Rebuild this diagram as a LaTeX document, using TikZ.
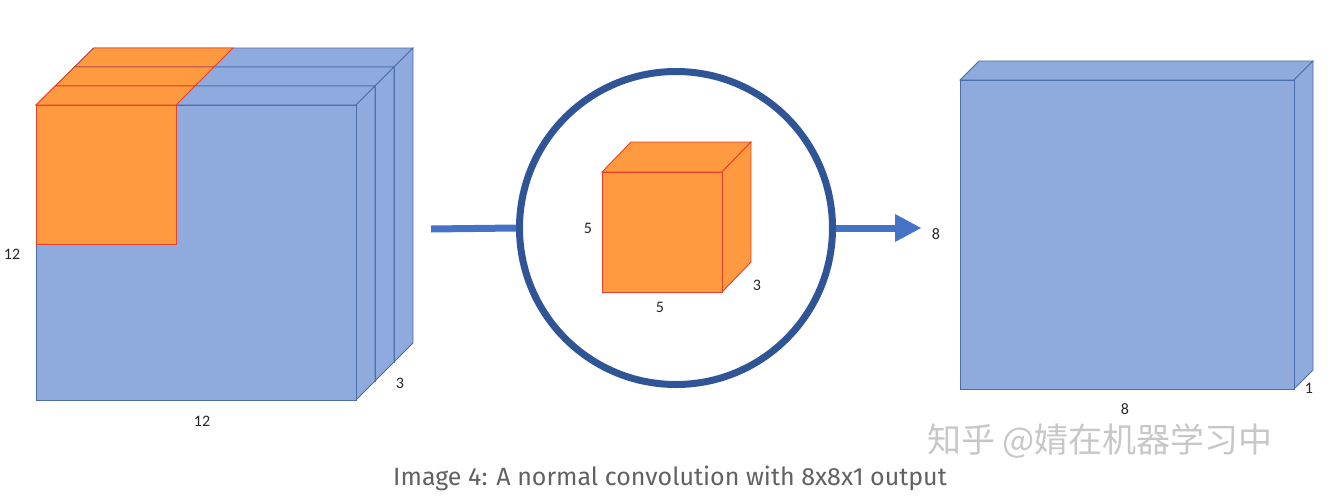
\documentclass[tikz,border=0pt]{standalone}
\usepackage{fontspec}
\setmainfont{Carlito}
\newfontfamily\capfont{Fira Sans}
\newfontfamily\cjk{Noto Sans CJK SC}
\begin{document}
\begin{tikzpicture}[x=1pt,y=-1pt,line join=miter,
  bluebox/.style={fill=blueF,draw=blueD,line width=0.9pt},
  orabox/.style={fill=oraF,draw=redD,line width=0.9pt},
  lab/.style={font=\fontsize{16}{18}\selectfont,text=black!85}]
\definecolor{blueF}{HTML}{8FAADC}
\definecolor{blueD}{HTML}{4A6EA8}
\definecolor{oraF}{HTML}{FF9A40}
\definecolor{redD}{HTML}{E8412B}
\definecolor{ring}{HTML}{2F5597}
\definecolor{arr}{HTML}{4472C4}
\useasboundingbox (0,0) rectangle (1338,498);
% cuboid: #1 style, x1,y1,x2,y2 front face, dx,dy depth offset
\newcommand\mycuboid[7]{%
  \path[#1] (#2,#3) -- ++(#6,#7) -- (#4+#6,#3+#7) -- (#4,#3) -- cycle;
  \path[#1] (#4,#3) -- (#4+#6,#3+#7) -- (#4+#6,#5+#7) -- (#4,#5) -- cycle;
  \path[#1] (#2,#3) rectangle (#4,#5);}
% left input volume: three slices
\foreach \k in {2,1,0}{
  \mycuboid{bluebox}{36+19.3*\k}{105-19*\k}{356+19*\k}{400-19*\k}{19}{-19}
  \path[orabox] (36+19.3*\k,105-19*\k) -- ++(19.3,-19) -- (176+19*\k+19,86-19*\k) -- (176+19*\k,105-19*\k) -- cycle;
}
\path[orabox] (36,105) rectangle (176,244);
\node[lab] (l12a) at (12,254) {12};
\node[lab] (l12b) at (202,421) {12};
\node[lab] (l3a) at (400,383) {3};
% circle and kernel
\node[circle,draw=ring,line width=7pt,minimum size=313pt,inner sep=0] (ring) at (676,228) {};
\mycuboid{orabox}{602}{172}{722}{292}{29}{-30}
\node[lab] (k5a) at (588,228) {5};
\node[lab] (k5b) at (660,307) {5};
\node[lab] (k3) at (757,285) {3};
% arrows
\coordinate (ain) at (431,229);
\draw[arr,line width=7pt] (ain) -- (ring.west);
\coordinate (aout) at (897,228);
\draw[arr,line width=7pt] (ring.east) -- (aout);
\fill[arr] (895,214) -- (921,228) -- (895,242) -- cycle;
\node[lab] (o8a) at (936,234) {8};
% output
\mycuboid{bluebox}{960}{80}{1294}{389}{19}{-19}
\node[lab] (o1) at (1309,388) {1};
\node[lab] (o8b) at (1125,409) {8};
% watermark and caption
\node[font=\cjk\fontsize{34}{36}\selectfont,text=black!22] (wm) at (1100,441) {知乎 @婧在机器学习中};
\node[font=\capfont\fontsize{25}{28}\selectfont,text=black!62] (cap) at (670,478) {Image 4: A normal convolution with 8x8x1 output};
\end{tikzpicture}
\end{document}
